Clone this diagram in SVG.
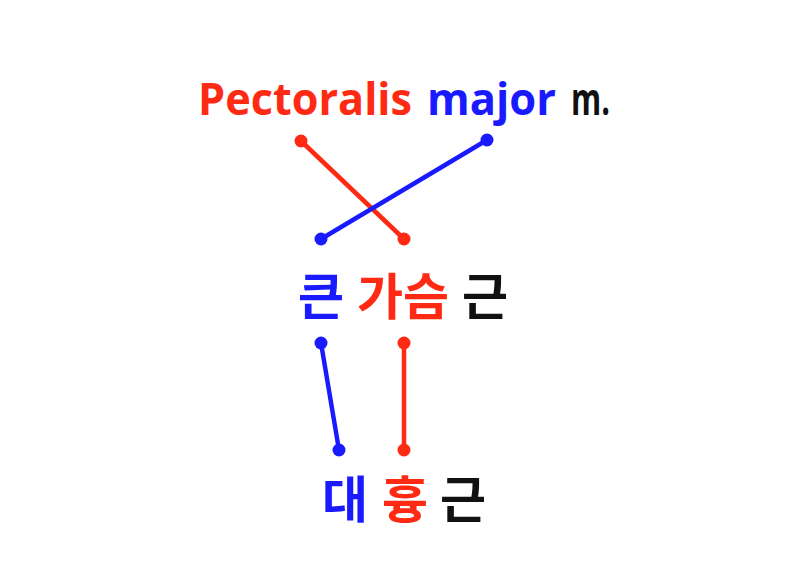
<svg xmlns="http://www.w3.org/2000/svg" width="800" height="578" viewBox="0 0 800 578">
<style>
.en{font-family:"Open Sans","Liberation Sans",sans-serif;font-weight:700;font-size:45px}
.ko{font-family:"Noto Sans CJK KR","Noto Sans",sans-serif;font-weight:700;font-size:50px;text-anchor:middle}
.r{fill:#ff2a14}.b{fill:#1a1aff}.k{fill:#111}
.lr{stroke:#ff2a14;stroke-width:4.5;stroke-linecap:round}
.lb{stroke:#1a1aff;stroke-width:4.5;stroke-linecap:round}
</style>
<rect width="800" height="578" fill="#fff"/>
<g id="title">
<text class="en r" x="198" y="115" textLength="214" lengthAdjust="spacingAndGlyphs">Pectoralis</text>
<text class="en b" x="427" y="115" textLength="129" lengthAdjust="spacingAndGlyphs">major</text>
<text class="en k" x="571" y="115" textLength="39" lengthAdjust="spacingAndGlyphs">m.</text>
</g>
<g id="korean1">
<text class="ko b" x="321" y="315">큰</text>
<text class="ko r" x="403" y="315">가슴</text>
<text class="ko k" x="485" y="315">근</text>
</g>
<g id="korean2">
<text class="ko b" x="345" y="518">대</text>
<text class="ko r" x="405" y="518">흉</text>
<text class="ko k" x="463" y="518">근</text>
</g>
<g id="connectors">
<line class="lr" x1="301" y1="141" x2="404" y2="239"/>
<line class="lb" x1="487" y1="140" x2="321" y2="239"/>
<line class="lb" x1="321" y1="343" x2="339" y2="450"/>
<line class="lr" x1="404" y1="343" x2="404" y2="450"/>
<circle class="r" cx="301" cy="141" r="6.5"/>
<circle class="r" cx="404" cy="239" r="6.5"/>
<circle class="b" cx="487" cy="140" r="6.5"/>
<circle class="b" cx="321" cy="239" r="6.5"/>
<circle class="b" cx="321" cy="343" r="6.5"/>
<circle class="b" cx="339" cy="450" r="6.5"/>
<circle class="r" cx="404" cy="343" r="6.5"/>
<circle class="r" cx="404" cy="450" r="6.5"/>
</g>
</svg>
